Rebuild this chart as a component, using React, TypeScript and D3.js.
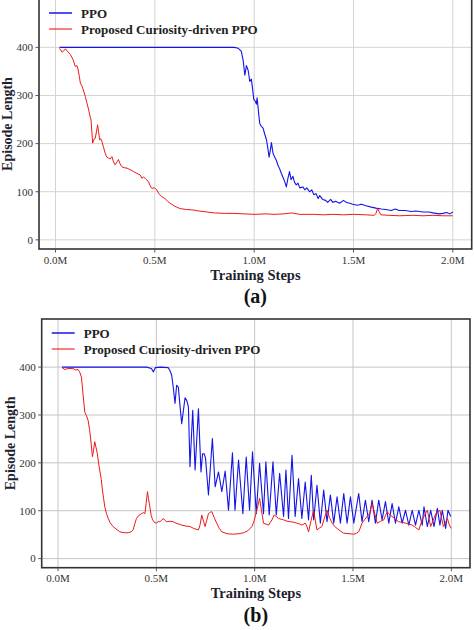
import React from "react";
import * as d3 from "d3";

// [training steps in millions, episode length]
const ppoA: [number, number][] = [
  [0.02, 400], [0.9, 400], [0.92, 398], [0.935, 392], [0.945, 372], [0.953, 342], [0.961, 362], [0.97, 352],
  [0.978, 329], [0.986, 334], [0.993, 310], [0.998, 292], [1.006, 288], [1.011, 282], [1.015, 295], [1.022, 265],
  [1.028, 242], [1.036, 236], [1.045, 232], [1.053, 220], [1.062, 208], [1.069, 190], [1.075, 172], [1.081, 185],
  [1.087, 202], [1.095, 180], [1.103, 172], [1.112, 165], [1.12, 155], [1.128, 148], [1.137, 138], [1.145, 130],
  [1.153, 122], [1.162, 110], [1.17, 128], [1.178, 142], [1.186, 125], [1.195, 132], [1.203, 120], [1.212, 114],
  [1.22, 118], [1.23, 108], [1.245, 110], [1.255, 104], [1.265, 108], [1.279, 100], [1.29, 104], [1.3, 94],
  [1.312, 96], [1.322, 86], [1.33, 92], [1.345, 84], [1.36, 82], [1.37, 78], [1.385, 84], [1.396, 78],
  [1.41, 80], [1.43, 76], [1.45, 82], [1.463, 78], [1.48, 76], [1.496, 74], [1.52, 72], [1.54, 74],
  [1.563, 71], [1.59, 68], [1.613, 66], [1.64, 64], [1.663, 63], [1.69, 61], [1.71, 64], [1.73, 61],
  [1.76, 61], [1.79, 59], [1.814, 60], [1.85, 58], [1.88, 58], [1.9, 56], [1.93, 54], [1.95, 55],
  [1.97, 57], [1.985, 54], [2.0, 58],
];

const curiosityA: [number, number][] = [
  [0.02, 398], [0.033, 390], [0.042, 393], [0.05, 397], [0.06, 392], [0.075, 385], [0.088, 375], [0.1, 360],
  [0.108, 362], [0.113, 355], [0.12, 340], [0.125, 326], [0.135, 318], [0.15, 298], [0.158, 285], [0.167, 270],
  [0.175, 255], [0.179, 249], [0.187, 201], [0.195, 210], [0.2, 211], [0.206, 224], [0.212, 239], [0.217, 225],
  [0.222, 208], [0.228, 210], [0.234, 204], [0.242, 192], [0.25, 180], [0.258, 172], [0.267, 170], [0.275, 168],
  [0.284, 173], [0.292, 162], [0.3, 156], [0.31, 162], [0.317, 167], [0.325, 158], [0.334, 152], [0.345, 150],
  [0.36, 149], [0.375, 146], [0.393, 142], [0.41, 138], [0.426, 135], [0.435, 128], [0.443, 131], [0.455, 126],
  [0.468, 121], [0.477, 112], [0.485, 107], [0.498, 108], [0.51, 104], [0.52, 96], [0.535, 90], [0.55, 86],
  [0.565, 80], [0.577, 76], [0.6, 70], [0.627, 65], [0.66, 63], [0.694, 62], [0.72, 60], [0.76, 58],
  [0.8, 56], [0.85, 55], [0.894, 55], [0.95, 54], [1.0, 53], [1.062, 54], [1.1, 53], [1.15, 54],
  [1.19, 56], [1.23, 53], [1.3, 53], [1.35, 52], [1.396, 53], [1.45, 52], [1.5, 53], [1.563, 52],
  [1.605, 51], [1.613, 55], [1.621, 65], [1.63, 58], [1.638, 52], [1.68, 51], [1.73, 50], [1.8, 51],
  [1.85, 50], [1.9, 51], [1.95, 50], [2.0, 50],
];

const ppoB: [number, number][] = [
  [0.02, 400], [0.45, 400], [0.475, 397], [0.485, 390], [0.495, 399], [0.52, 400], [0.56, 399], [0.57, 392],
  [0.578, 383], [0.586, 358], [0.595, 324], [0.603, 362], [0.612, 358], [0.62, 320], [0.629, 282], [0.646, 336],
  [0.655, 330], [0.663, 317], [0.671, 192], [0.685, 310], [0.697, 185], [0.714, 313], [0.727, 181], [0.735, 219],
  [0.743, 219], [0.75, 210], [0.765, 133], [0.785, 251], [0.799, 150], [0.816, 181], [0.833, 140], [0.85, 183],
  [0.867, 101], [0.887, 221], [0.9, 101], [0.918, 206], [0.94, 94], [0.957, 212], [0.974, 101], [0.989, 223],
  [1.008, 94], [1.025, 199], [1.045, 94], [1.057, 202], [1.074, 91], [1.093, 202], [1.11, 91], [1.127, 178],
  [1.147, 88], [1.159, 185], [1.172, 84], [1.19, 216], [1.206, 88], [1.223, 167], [1.24, 84], [1.257, 160],
  [1.274, 81], [1.288, 174], [1.3, 81], [1.317, 153], [1.334, 74], [1.351, 143], [1.368, 77], [1.385, 133],
  [1.402, 74], [1.419, 129], [1.436, 74], [1.453, 136], [1.47, 74], [1.487, 129], [1.504, 74], [1.529, 136],
  [1.546, 77], [1.563, 122], [1.58, 77], [1.597, 122], [1.614, 74], [1.631, 122], [1.648, 81], [1.665, 119],
  [1.682, 74], [1.699, 115], [1.716, 74], [1.733, 108], [1.75, 74], [1.767, 101], [1.784, 70], [1.801, 101],
  [1.818, 70], [1.835, 101], [1.852, 70], [1.861, 108], [1.878, 67], [1.895, 101], [1.912, 67], [1.929, 105],
  [1.942, 70], [1.954, 101], [1.971, 63], [1.983, 101], [1.997, 88],
];

const curiosityB: [number, number][] = [
  [0.02, 399], [0.035, 395], [0.05, 397], [0.076, 397], [0.09, 394], [0.102, 395], [0.11, 390], [0.119, 379],
  [0.127, 344], [0.136, 306], [0.145, 298], [0.153, 289], [0.16, 270], [0.165, 254], [0.175, 213], [0.18, 225],
  [0.187, 244], [0.2, 219], [0.206, 200], [0.212, 185], [0.22, 165], [0.226, 143], [0.232, 125], [0.238, 108],
  [0.246, 95], [0.255, 84], [0.265, 75], [0.28, 67], [0.295, 62], [0.314, 56], [0.335, 54], [0.357, 54],
  [0.372, 56], [0.382, 60], [0.39, 72], [0.399, 84], [0.41, 90], [0.425, 94], [0.435, 96], [0.442, 94],
  [0.448, 115], [0.455, 140], [0.46, 125], [0.467, 108], [0.474, 90], [0.481, 81], [0.49, 76], [0.501, 74],
  [0.51, 78], [0.518, 77], [0.527, 80], [0.535, 84], [0.543, 80], [0.552, 77], [0.57, 78], [0.586, 77],
  [0.6, 74], [0.629, 70], [0.65, 68], [0.671, 67], [0.69, 63], [0.714, 60], [0.722, 70], [0.731, 91],
  [0.74, 78], [0.748, 67], [0.756, 80], [0.765, 94], [0.775, 97], [0.782, 98], [0.795, 85], [0.807, 74],
  [0.82, 63], [0.833, 56], [0.86, 52], [0.892, 51], [0.92, 52], [0.943, 54], [0.965, 58], [0.986, 67],
  [0.995, 76], [1.003, 88], [1.015, 108], [1.025, 126], [1.035, 100], [1.045, 74], [1.058, 72], [1.071, 70],
  [1.08, 76], [1.088, 81], [1.099, 91], [1.11, 88], [1.121, 84], [1.135, 82], [1.147, 81], [1.165, 78],
  [1.181, 77], [1.2, 76], [1.215, 74], [1.23, 72], [1.24, 70], [1.257, 74], [1.265, 68], [1.274, 56],
  [1.287, 80], [1.3, 101], [1.308, 80], [1.317, 60], [1.33, 64], [1.342, 67], [1.355, 85], [1.368, 101],
  [1.38, 86], [1.394, 74], [1.405, 68], [1.419, 63], [1.435, 58], [1.453, 53], [1.48, 52], [1.504, 51],
  [1.518, 53], [1.529, 56], [1.537, 64], [1.546, 74], [1.56, 82], [1.572, 88], [1.585, 95], [1.597, 115],
  [1.61, 95], [1.623, 74], [1.64, 78], [1.657, 81], [1.665, 90], [1.674, 98], [1.686, 92], [1.699, 88],
  [1.716, 82], [1.733, 77], [1.75, 76], [1.767, 74], [1.785, 72], [1.801, 70], [1.818, 65], [1.835, 60],
  [1.843, 70], [1.852, 81], [1.865, 92], [1.878, 101], [1.886, 85], [1.895, 67], [1.908, 80], [1.921, 94],
  [1.932, 98], [1.942, 101], [1.95, 85], [1.96, 67], [1.97, 75], [1.98, 84], [1.99, 70], [2.0, 63],
];

const xTicks = [0, 0.5, 1.0, 1.5, 2.0];
const yTicks = [0, 100, 200, 300, 400];
const legendNames = ["PPO", "Proposed Curiosity-driven PPO"];
const seriesColors = ["#1414e6", "#f01818"];

const serif = "'Liberation Serif', 'Times New Roman', serif";

type Box = { left: number; right: number; top: number; bottom: number };

function Panel({ box, ppo, curiosity, caption, grid }: {
  box: Box; ppo: [number, number][]; curiosity: [number, number][]; caption: string; grid: string;
}) {
  const x = d3.scaleLinear().domain([-0.083, 2.095]).range([box.left, box.right]);
  const y = d3.scaleLinear().domain([-19, 500.5]).range([box.bottom, box.top]);
  const line = d3.line<[number, number]>().x(d => x(d[0])).y(d => y(d[1]));
  const cx = (box.left + box.right) / 2;
  const cy = (box.top + box.bottom) / 2;

  return (
    <g>
      {/* grid */}
      {xTicks.map(t => (
        <line key={"gx" + t} x1={x(t)} x2={x(t)} y1={box.top} y2={box.bottom} stroke={grid} strokeWidth={1} />
      ))}
      {yTicks.map(t => (
        <line key={"gy" + t} x1={box.left} x2={box.right} y1={y(t)} y2={y(t)} stroke={grid} strokeWidth={1} />
      ))}

      {/* series */}
      <path d={line(ppo) ?? ""} fill="none" stroke={seriesColors[0]} strokeWidth={1.1} strokeLinejoin="round" />
      <path d={line(curiosity) ?? ""} fill="none" stroke={seriesColors[1]} strokeWidth={1} strokeLinejoin="round" />

      {/* frame */}
      <rect x={box.left} y={box.top} width={box.right - box.left} height={box.bottom - box.top}
        fill="none" stroke="#333" strokeWidth={1.6} />

      {/* ticks */}
      {xTicks.map(t => (
        <g key={"tx" + t}>
          <line x1={x(t)} x2={x(t)} y1={box.bottom} y2={box.bottom + 3.5} stroke="#555" strokeWidth={1} />
          <text x={x(t)} y={box.bottom + 14.5} textAnchor="middle" fontFamily={serif} fontSize={11} fill="#333">
            {t.toFixed(1) + "M"}
          </text>
        </g>
      ))}
      {yTicks.map(t => (
        <g key={"ty" + t}>
          <line x1={box.left - 3.5} x2={box.left} y1={y(t)} y2={y(t)} stroke="#555" strokeWidth={1} />
          <text x={box.left - 6} y={y(t)} dy="0.35em" textAnchor="end" fontFamily={serif} fontSize={11} fill="#333">
            {t}
          </text>
        </g>
      ))}

      {/* legend */}
      {legendNames.map((name, i) => (
        <g key={name}>
          <line x1={box.left + 10} x2={box.left + 33} y1={box.top + 14 + i * 16} y2={box.top + 14 + i * 16}
            stroke={seriesColors[i]} strokeWidth={i === 0 ? 1.5 : 1.1} />
          <text x={box.left + 42} y={box.top + 14 + i * 16} dy="0.35em" fontFamily={serif} fontWeight="bold"
            fontSize={13} fill="#222">{name}</text>
        </g>
      ))}

      {/* axis labels */}
      <text transform={`translate(${box.left - 27},${cy}) rotate(-90)`} textAnchor="middle"
        fontFamily={serif} fontWeight="bold" fontSize={14} fill="#1e2230">Episode Length</text>
      <text x={cx} y={box.bottom + 30.5} textAnchor="middle" fontFamily={serif} fontWeight="bold"
        fontSize={14.5} fill="#1e2230">Training Steps</text>
      <text x={cx} y={box.bottom + 54} textAnchor="middle" fontFamily={serif} fontWeight="bold"
        fontSize={20} fill="#111">{caption}</text>
    </g>
  );
}

export default function App() {
  return (
    <svg width={474} height={630} style={{ position: "absolute", left: 0, top: 0, background: "#fff" }}>
      <rect width={474} height={630} fill="#fff" />
      <Panel box={{ left: 39, right: 471.7, top: -1, bottom: 249 }} ppo={ppoA} curiosity={curiosityA}
        caption="(a)" grid="#d4d4d4" />
      <Panel box={{ left: 41.7, right: 470, top: 319, bottom: 567.7 }} ppo={ppoB} curiosity={curiosityB}
        caption="(b)" grid="#c4c4c4" />
    </svg>
  );
}
